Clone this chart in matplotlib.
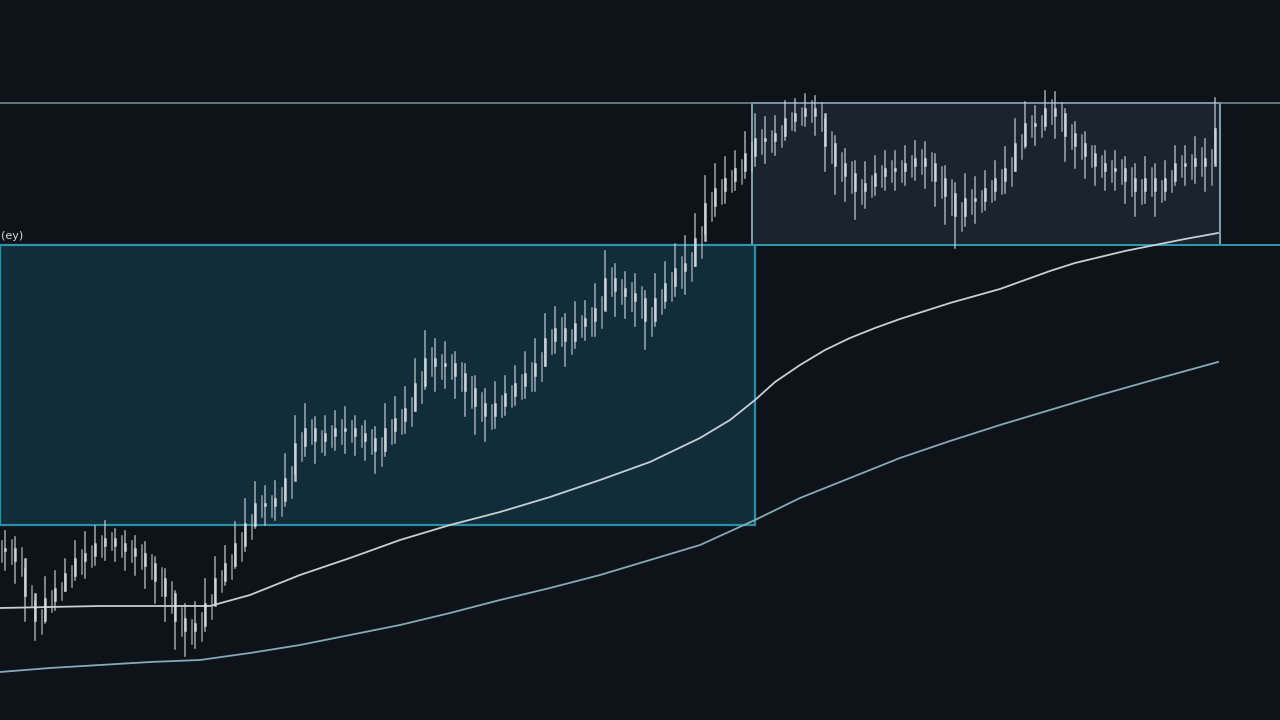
import matplotlib.pyplot as plt
from matplotlib.patches import Rectangle

# price bars, one every 10 px across the chart
bar_x = list(range(5, 1220, 10))
close = [170, 160, 125, 100, 120, 130, 145, 160, 165, 175,
         180, 175, 170, 165, 155, 140, 125, 100, 90, 95,
         115, 140, 155, 175, 195, 215, 215, 220, 240, 275,
         290, 280, 285, 290, 290, 285, 280, 270, 290, 300,
         310, 335, 360, 355, 355, 345, 330, 315, 305, 315,
         325, 335, 345, 355, 380, 390, 380, 395, 400, 410,
         440, 430, 425, 420, 400, 420, 435, 450, 455, 480,
         515, 530, 540, 550, 565, 580, 580, 585, 600, 605,
         610, 605, 575, 555, 545, 530, 535, 545, 550, 550,
         555, 560, 555, 540, 525, 505, 520, 520, 530, 540,
         550, 575, 595, 595, 610, 605, 585, 575, 565, 555,
         550, 550, 540, 530, 540, 530, 540, 555, 555, 560,
         555, 590]
spread = [30, 35, 40, 30, 35, 30, 25, 30, 35, 30,
          30, 25, 30, 30, 35, 35, 40, 45, 40, 35,
          40, 35, 30, 35, 40, 35, 30, 30, 40, 45,
          40, 35, 30, 30, 35, 30, 30, 35, 40, 35,
          35, 40, 45, 40, 35, 35, 40, 45, 40, 35,
          30, 30, 35, 40, 40, 35, 40, 35, 30, 40,
          45, 40, 35, 40, 45, 40, 35, 40, 45, 40,
          45, 40, 35, 30, 35, 40, 35, 30, 30, 25,
          25, 30, 40, 45, 40, 45, 35, 30, 30, 30,
          30, 30, 35, 40, 45, 50, 40, 35, 30, 30,
          35, 40, 35, 30, 30, 35, 40, 35, 35, 30,
          30, 30, 35, 40, 35, 40, 30, 30, 30, 35,
          40, 50]

# moving averages
ma_fast_x = [0, 100, 160, 210, 250, 300, 350, 400, 450, 500, 550, 600, 650,
             700, 730, 755, 775, 800, 825, 850, 875, 900, 925, 950, 975, 1000,
             1025, 1050, 1075, 1100, 1125, 1150, 1185, 1218]
ma_fast = [112, 114, 114, 114, 125, 145, 162, 180, 195, 208, 223, 240, 258,
           282, 300, 320, 338, 355, 370, 382, 392, 401, 409, 417, 424, 431,
           440, 449, 457, 463, 469, 474, 481, 487]
ma_slow_x = [0, 50, 100, 150, 200, 250, 300, 350, 400, 450, 500, 550, 600, 650,
             700, 755, 800, 850, 900, 950, 1000, 1050, 1100, 1160, 1218]
ma_slow = [48, 52, 55, 58, 60, 67, 75, 85, 95, 107, 120, 132, 145, 160,
           175, 200, 222, 242, 262, 279, 295, 310, 325, 342, 358]

# zones
range_zone = (0, 755, 195, 475)
top_zone = (752, 1220, 475, 617)
levels = [617, 475]

bg = "#0e131a"
fig = plt.figure(figsize=(12.8, 7.2), dpi=100, facecolor=bg)
ax = fig.add_axes([0, 0, 1, 1])
ax.set_facecolor(bg)
ax.set_xlim(0, 1280)
ax.set_ylim(0, 720)
ax.axis("off")

# filled zones
x0, x1, y0, y1 = range_zone
ax.add_patch(Rectangle((x0, y0), x1 - x0, y1 - y0, facecolor="#13303e", edgecolor="#2e9bb5",
                       lw=1.6, alpha=0.9, zorder=1))
x0, x1, y0, y1 = top_zone
ax.add_patch(Rectangle((x0, y0), x1 - x0, y1 - y0, facecolor="#1b232c", edgecolor="#7fa3b0",
                       lw=1.4, zorder=1))

ax.axhline(levels[0], color="#7d8e99", lw=1.1, zorder=1)
ax.axhline(levels[1], color="#2e95b0", lw=1.4, zorder=1)

# candles: thin high-low bars with a slightly heavier open-close part
opens = [close[0]] + close[:-1]
for x, o, c, s in zip(bar_x, opens, close, spread):
    ax.plot([x, x], [c - s * 0.65, c + s * 0.65], color="#c3ccd5", lw=1.1, alpha=0.8, zorder=3)
    ax.plot([x - 3, x - 3], [o - s * 0.4, o + s * 0.3], color="#c3ccd5", lw=1.1, alpha=0.7, zorder=3)
    ax.plot([x, x], [min(o, c), max(o, c) + 1], color="#dde4ea", lw=1.8, alpha=0.85, zorder=3)

ax.plot(ma_fast_x, ma_fast, color="#c7ced4", lw=1.3, zorder=2)
ax.plot(ma_slow_x, ma_slow, color="#86a9b8", lw=1.3, zorder=2)

ax.text(1, 484, "(ey)", color="#d8dee4", fontsize=8, va="center", ha="left")

fig.savefig("out.png", dpi=100, facecolor=bg)
